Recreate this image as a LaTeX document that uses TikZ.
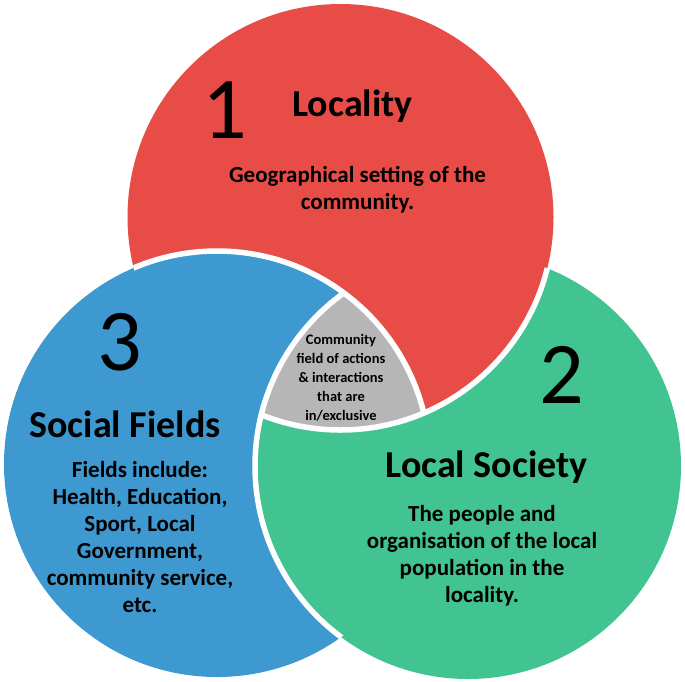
\documentclass[tikz,border=0pt]{standalone}
\usepackage{fontspec}
\setmainfont{Carlito}
\usepackage{tikz}
\definecolor{localityred}{RGB}{232,76,70}
\definecolor{fieldsblue}{RGB}{61,153,207}
\definecolor{societygreen}{RGB}{65,196,145}
\definecolor{coregray}{RGB}{182,182,182}
\newcommand{\circrad}{213pt}
\tikzset{
  ring/.style={draw=white, line width=5.5pt},
  numtext/.style={anchor=base, font=\fontsize{88}{88}\selectfont},
  titletext/.style={anchor=base, font=\fontsize{38}{38}\selectfont\bfseries},
  bodytext/.style={anchor=base, align=center, font=\fontsize{23}{27}\selectfont\bfseries},
  coretext/.style={anchor=base, align=center, font=\fontsize{14.5}{19}\selectfont\bfseries}
}

\begin{document}
\begin{tikzpicture}[x=1pt,y=-1pt]
\useasboundingbox (0,0) rectangle (685,681);
\coordinate (locality) at (340.5,217);
\coordinate (fields) at (217,464);
\coordinate (society) at (468,466);

% the three circles
\fill[fieldsblue] (fields) circle[radius=\circrad];
\fill[societygreen] (society) circle[radius=\circrad];
\begin{scope}[even odd rule]
\clip (0,0) rectangle (685,681) (fields) circle[radius=\circrad];
\fill[localityred] (locality) circle[radius=\circrad];
\end{scope}
% common part
\begin{scope}
\clip (locality) circle[radius=\circrad];
\clip (fields) circle[radius=\circrad];
\fill[coregray] (society) circle[radius=\circrad];
\end{scope}
% white edges
\begin{scope}
\clip (locality) circle[radius=\circrad];
\draw[ring] (fields) circle[radius=\circrad];
\end{scope}
\begin{scope}
\clip (fields) circle[radius=\circrad];
\draw[ring] (society) circle[radius=\circrad];
\end{scope}
\begin{scope}
\clip (society) circle[radius=\circrad];
\draw[ring] (locality) circle[radius=\circrad];
\end{scope}

% texts (base = last line)
\node[numtext] (one) at (225,138) {1};
\node[titletext] (localitytitle) at (352.5,116) {Locality};
\node[bodytext] (localitybody) at (357.5,209) {Geographical setting of the\\community.};

\node[numtext] (three) at (120,370) {3};
\node[titletext] (fieldstitle) at (125,437) {Social Fields};
\node[bodytext] (fieldsbody) at (140,612) {Fields include:\\Health, Education,\\Sport, Local\\Government,\\community service,\\etc.};

\node[numtext] (two) at (562,403) {2};
\node[titletext] (societytitle) at (486.5,477) {Local Society};
\node[bodytext] (societybody) at (482,602) {The people and\\organisation of the local\\population in the\\locality.};

\node[coretext] (coretitle) at (341,420) {Community\\field of actions\\\& interactions\\that are\\in/exclusive};
\end{tikzpicture}
\end{document}
